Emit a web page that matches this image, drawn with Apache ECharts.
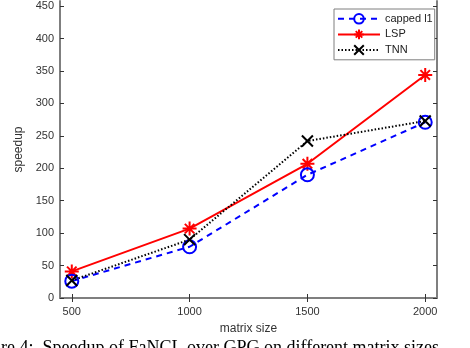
<!DOCTYPE html>
<html><head><meta charset="utf-8">
<script src="https://cdn.jsdelivr.net/npm/echarts@6/dist/echarts.min.js"></script>
<style>html,body{margin:0;padding:0;background:#fff}#c{width:470px;height:348px}</style>
</head><body><div id="c"></div>
<script>
const sizes = [500, 1000, 1500, 2000];
const cappedL1 = [26, 79, 190, 271];
const lsp = [41, 107, 207, 344];
const tnn = [27, 90, 242, 273];
const xTicks = [500, 1000, 1500, 2000];
const yTicks = [0, 50, 100, 150, 200, 250, 300, 350, 400, 450];

const font = 'Liberation Sans';
const gray = '#7f7f7f';
const asterisk = 'path://M0 5 L10 5 M5 0 L5 10 M1.6 1.6 L8.4 8.4 M8.4 1.6 L1.6 8.4';
const cross = 'path://M0 0 L10 10 M10 0 L0 10';

function pts(arr){ return sizes.map((s,i)=>[s, arr[i]]); }

const axisBase = {
  axisLine:{show:true, lineStyle:{color:gray, width:2}},
  axisTick:{show:true, inside:true, length:4, lineStyle:{color:'#333', width:1}},
  splitLine:{show:false}
};
const plain = v => String(v);

const chart = echarts.init(document.getElementById('c'));
chart.setOption({
  animation:false,
  backgroundColor:'#fff',
  grid:{left:60, right:33, top:1, bottom:50},
  xAxis:[
    Object.assign({type:'value', min:450, max:2050, position:'bottom',
      name:'matrix size', nameLocation:'middle', nameGap:25,
      nameTextStyle:{fontFamily:font, fontSize:12, color:'#333'},
      axisLabel:{customValues:xTicks, formatter:plain, fontFamily:font, fontSize:11, color:'#333', margin:8},
    }, axisBase, {axisTick:Object.assign({}, axisBase.axisTick, {customValues:xTicks})}),
    Object.assign({type:'value', min:450, max:2050, position:'top',
      axisLabel:{show:false}}, axisBase, {axisTick:Object.assign({}, axisBase.axisTick, {customValues:xTicks})})
  ],
  yAxis:[
    Object.assign({type:'value', min:0, max:458, position:'left',
      name:'speedup', nameLocation:'middle', nameGap:25,
      nameTextStyle:{fontFamily:font, fontSize:12, color:'#333'},
      axisLabel:{customValues:yTicks, formatter:plain, fontFamily:font, fontSize:11, color:'#333', margin:6}
    }, axisBase, {axisTick:Object.assign({}, axisBase.axisTick, {customValues:yTicks})}),
    Object.assign({type:'value', min:0, max:458, position:'right',
      axisLabel:{show:false}}, axisBase, {axisTick:Object.assign({}, axisBase.axisTick, {customValues:yTicks})})
  ],
  legend:{
    orient:'vertical', left:334, top:9,
    backgroundColor:'#fff', borderColor:gray, borderWidth:1,
    padding:[4,2,4,3], itemGap:4, itemWidth:42, itemHeight:12,
    textStyle:{fontFamily:font, fontSize:11, color:'#222'},
    data:['capped l1','LSP','TNN']
  },
  series:[
    {name:'capped l1', type:'line', data:pts(cappedL1), symbol:'circle', symbolSize:13,
     lineStyle:{color:'#0000ff', width:2, type:[6,5]},
     itemStyle:{color:'rgba(0,0,0,0)', borderColor:'#0000ff', borderWidth:2}, z:3},
    {name:'LSP', type:'line', data:pts(lsp), symbol:asterisk, symbolSize:14,
     lineStyle:{color:'#ff0000', width:2},
     itemStyle:{color:'rgba(0,0,0,0)', borderColor:'#ff0000', borderWidth:2}, z:2},
    {name:'TNN', type:'line', data:pts(tnn), symbol:cross, symbolSize:11,
     lineStyle:{color:'#000', width:2, type:[1.5,2]},
     itemStyle:{color:'rgba(0,0,0,0)', borderColor:'#000', borderWidth:2}, z:4}
  ],
  graphic:[{type:'text', left:-32, top:339,
    style:{text:'Figure 4:  Speedup of FaNCL over GPG on different matrix sizes', fontFamily:'Liberation Serif', fontSize:18, fill:'#000'}}]
});
</script></body></html>
